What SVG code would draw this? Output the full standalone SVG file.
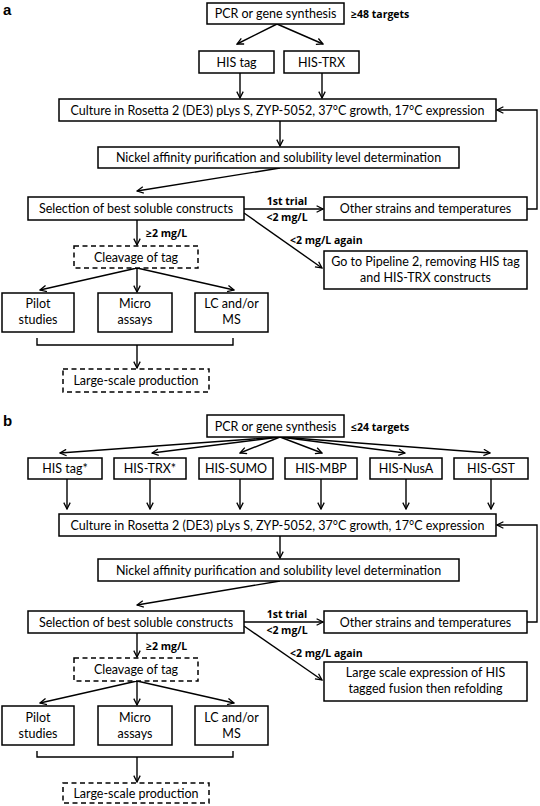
<svg xmlns="http://www.w3.org/2000/svg" width="540" height="806" viewBox="0 0 540 806">
<defs>
<marker id="ah" viewBox="0 0 10 10" refX="9" refY="5" markerWidth="8" markerHeight="8" markerUnits="userSpaceOnUse" orient="auto">
<path d="M1,1 L9,5 L1,9" fill="none" stroke="#000" stroke-width="1.6"/>
</marker>
<style>
.box{fill:#fff;stroke:#000;stroke-width:1.5}
.dash{fill:#fff;stroke:#000;stroke-width:1.5;stroke-dasharray:5,3.5}
.t{font-family:Lato,"Open Sans","Liberation Sans",sans-serif;font-size:12.5px;text-anchor:middle;fill:#000}
.lb{font-family:"Open Sans","Liberation Sans",sans-serif;font-size:10.5px;font-weight:bold;fill:#000}
.pl{font-family:"Liberation Sans",Arial,sans-serif;font-size:15px;font-weight:bold;fill:#000}
.c{fill:none;stroke:#000;stroke-width:1.4}
.ca{fill:none;stroke:#000;stroke-width:1.4;marker-end:url(#ah)}
</style>
</defs>
<rect width="540" height="806" fill="#fff"/>

<!-- Panel a -->
<text class="pl" x="3" y="15">a</text>
<g id="connectors-a">
<line class="ca" x1="277" y1="24" x2="237" y2="44"/>
<line class="ca" x1="277" y1="24" x2="323" y2="44"/>
<line class="ca" x1="240" y1="73" x2="240" y2="98"/>
<line class="ca" x1="322" y1="73" x2="322" y2="98"/>
<line class="ca" x1="280" y1="121" x2="280" y2="146"/>
<line class="ca" x1="280" y1="168" x2="137" y2="191"/>
<line class="ca" x1="244" y1="209" x2="323" y2="209"/>
<polyline class="ca" points="527,209 537,209 537,110 497,110"/>
<line class="ca" x1="244" y1="213" x2="322" y2="268"/>
<line class="ca" x1="137" y1="220" x2="137" y2="245"/>
<line class="ca" x1="137" y1="268" x2="40" y2="290"/>
<line class="ca" x1="137" y1="268" x2="137" y2="292"/>
<line class="ca" x1="137" y1="268" x2="234" y2="290"/>
<polyline class="c" points="37,338 37,345 233,345 233,338"/>
<line class="ca" x1="137" y1="345" x2="137" y2="368"/>
<text class="lb" x="287" y="205" text-anchor="middle">1st trial</text>
<text class="lb" x="287" y="221" text-anchor="middle">&lt;2 mg/L</text>
<text class="lb" x="290" y="244">&lt;2 mg/L again</text>
<text class="lb" x="146" y="237">≥2 mg/L</text>
</g>
<g id="a-pcr"><rect class="box" x="207" y="3" width="137" height="21"/><text class="t" x="275.5" y="18">PCR or gene synthesis</text></g>
<text class="lb" x="351" y="18">≥48 targets</text>
<g id="a-histag"><rect class="box" x="199" y="51" width="75" height="22"/><text class="t" x="236.5" y="66.5">HIS tag</text></g>
<g id="a-histrx"><rect class="box" x="284" y="51" width="75" height="22"/><text class="t" x="321.5" y="66.5">HIS-TRX</text></g>
<g id="a-culture"><rect class="box" x="59" y="99" width="437" height="22"/><text class="t" x="277.5" y="114.5">Culture in Rosetta 2 (DE3) pLys S, ZYP-5052, 37°C growth, 17°C expression</text></g>
<g id="a-nickel"><rect class="box" x="98" y="147" width="361" height="21"/><text class="t" x="278.5" y="162">Nickel affinity purification and solubility level determination</text></g>
<g id="a-selection"><rect class="box" x="28" y="197" width="216" height="23"/><text class="t" x="136" y="213">Selection of best soluble constructs</text></g>
<g id="a-other"><rect class="box" x="324" y="197" width="203" height="23"/><text class="t" x="425.5" y="213">Other strains and temperatures</text></g>
<g id="a-pipeline2"><rect class="box" x="324" y="251" width="203" height="38"/><text class="t" x="425.5" y="265.5">Go to Pipeline 2, removing HIS tag</text><text class="t" x="425.5" y="281.5">and HIS-TRX constructs</text></g>
<g id="a-cleavage"><rect class="dash" x="74" y="246" width="124" height="22"/><text class="t" x="136" y="261.5">Cleavage of tag</text></g>
<g id="a-pilot"><rect class="box" x="2" y="293" width="72" height="39"/><text class="t" x="38" y="308">Pilot</text><text class="t" x="38" y="324">studies</text></g>
<g id="a-micro"><rect class="box" x="98" y="293" width="74" height="39"/><text class="t" x="135" y="308">Micro</text><text class="t" x="135" y="324">assays</text></g>
<g id="a-lcms"><rect class="box" x="195" y="293" width="73" height="39"/><text class="t" x="231.5" y="308">LC and/or</text><text class="t" x="231.5" y="324">MS</text></g>
<g id="a-large"><rect class="dash" x="63" y="369" width="146" height="23"/><text class="t" x="136" y="385">Large-scale production</text></g>

<!-- Panel b -->
<text class="pl" x="3" y="426">b</text>
<g id="connectors-b">
<line class="ca" x1="280" y1="437" x2="60" y2="453"/>
<line class="ca" x1="280" y1="437" x2="152" y2="453"/>
<line class="ca" x1="280" y1="437" x2="240" y2="453"/>
<line class="ca" x1="280" y1="437" x2="322" y2="453"/>
<line class="ca" x1="280" y1="437" x2="405" y2="453"/>
<line class="ca" x1="280" y1="437" x2="490" y2="453"/>
<line class="ca" x1="67" y1="479" x2="67" y2="509"/>
<line class="ca" x1="150" y1="479" x2="150" y2="509"/>
<line class="ca" x1="240" y1="479" x2="240" y2="509"/>
<line class="ca" x1="321" y1="479" x2="321" y2="509"/>
<line class="ca" x1="406" y1="479" x2="406" y2="509"/>
<line class="ca" x1="491" y1="479" x2="491" y2="509"/>
<line class="ca" x1="280" y1="536" x2="280" y2="558"/>
<line class="ca" x1="280" y1="581" x2="137" y2="605"/>
<line class="ca" x1="244" y1="622" x2="323" y2="622"/>
<polyline class="ca" points="527,622 537,622 537,525 497,525"/>
<line class="ca" x1="244" y1="626" x2="322" y2="680"/>
<line class="ca" x1="137" y1="633" x2="137" y2="657"/>
<line class="ca" x1="137" y1="681" x2="40" y2="703"/>
<line class="ca" x1="137" y1="681" x2="137" y2="705"/>
<line class="ca" x1="137" y1="681" x2="234" y2="703"/>
<polyline class="c" points="37,751 37,757 233,757 233,751"/>
<line class="ca" x1="137" y1="757" x2="137" y2="782"/>
<text class="lb" x="287" y="618" text-anchor="middle">1st trial</text>
<text class="lb" x="287" y="634" text-anchor="middle">&lt;2 mg/L</text>
<text class="lb" x="290" y="657">&lt;2 mg/L again</text>
<text class="lb" x="146" y="650">≥2 mg/L</text>
</g>
<g id="b-pcr"><rect class="box" x="207" y="415" width="137" height="22"/><text class="t" x="275.5" y="430.5">PCR or gene synthesis</text></g>
<text class="lb" x="351" y="430.5">≤24 targets</text>
<g id="b-histag"><rect class="box" x="28" y="458" width="74" height="21"/><text class="t" x="65" y="473">HIS tag*</text></g>
<g id="b-histrx"><rect class="box" x="114" y="458" width="72" height="21"/><text class="t" x="150" y="473">HIS-TRX*</text></g>
<g id="b-hissumo"><rect class="box" x="199" y="458" width="74" height="21"/><text class="t" x="236" y="473">HIS-SUMO</text></g>
<g id="b-hismbp"><rect class="box" x="285" y="458" width="72" height="21"/><text class="t" x="321" y="473">HIS-MBP</text></g>
<g id="b-hisnusa"><rect class="box" x="370" y="458" width="72" height="21"/><text class="t" x="406" y="473">HIS-NusA</text></g>
<g id="b-hisgst"><rect class="box" x="454" y="458" width="74" height="21"/><text class="t" x="491" y="473">HIS-GST</text></g>
<g id="b-culture"><rect class="box" x="59" y="514" width="437" height="22"/><text class="t" x="277.5" y="529.5">Culture in Rosetta 2 (DE3) pLys S, ZYP-5052, 37°C growth, 17°C expression</text></g>
<g id="b-nickel"><rect class="box" x="98" y="559" width="361" height="22"/><text class="t" x="278.5" y="574.5">Nickel affinity purification and solubility level determination</text></g>
<g id="b-selection"><rect class="box" x="28" y="611" width="216" height="22"/><text class="t" x="136" y="626.5">Selection of best soluble constructs</text></g>
<g id="b-other"><rect class="box" x="324" y="611" width="203" height="22"/><text class="t" x="425.5" y="626.5">Other strains and temperatures</text></g>
<g id="b-largeexpr"><rect class="box" x="324" y="662" width="203" height="39"/><text class="t" x="425.5" y="677">Large scale expression of HIS</text><text class="t" x="425.5" y="693">tagged fusion then refolding</text></g>
<g id="b-cleavage"><rect class="dash" x="74" y="658" width="124" height="23"/><text class="t" x="136" y="674">Cleavage of tag</text></g>
<g id="b-pilot"><rect class="box" x="2" y="706" width="72" height="39"/><text class="t" x="38" y="722">Pilot</text><text class="t" x="38" y="738">studies</text></g>
<g id="b-micro"><rect class="box" x="98" y="706" width="74" height="39"/><text class="t" x="135" y="722">Micro</text><text class="t" x="135" y="738">assays</text></g>
<g id="b-lcms"><rect class="box" x="195" y="706" width="73" height="39"/><text class="t" x="231.5" y="722">LC and/or</text><text class="t" x="231.5" y="738">MS</text></g>
<g id="b-large"><rect class="dash" x="63" y="783" width="146" height="20"/><text class="t" x="136" y="798">Large-scale production</text></g>
</svg>
